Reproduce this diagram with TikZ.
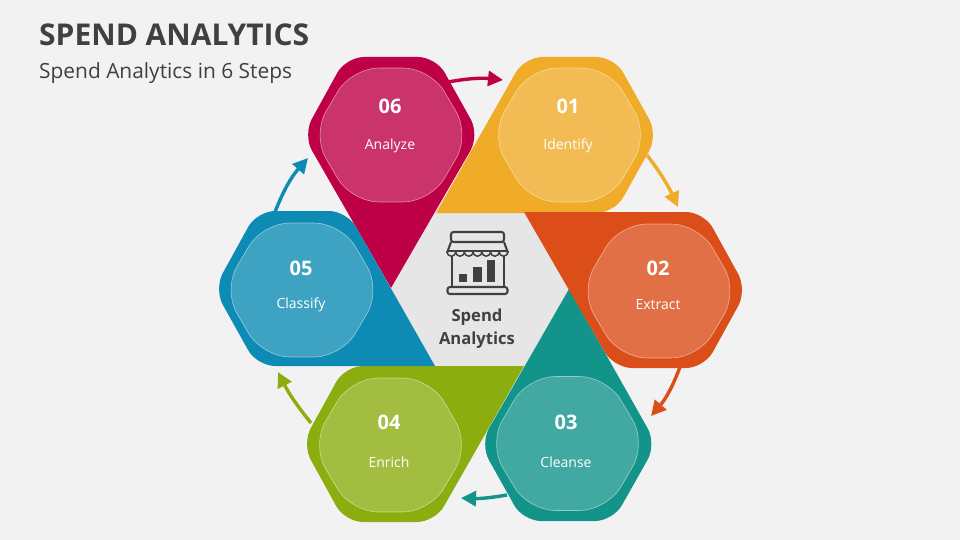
\documentclass[tikz,border=0pt]{standalone}
\usepackage{fontspec}
\setmainfont{Open Sans}
\usetikzlibrary{arrows.meta,shapes.geometric}
\definecolor{pagebg}{HTML}{F2F2F2}
\definecolor{centerbg}{HTML}{E6E6E6}
\definecolor{darktext}{HTML}{404040}
\definecolor{stepa}{HTML}{F0AB28}
\definecolor{stepb}{HTML}{DB4D19}
\definecolor{stepc}{HTML}{12948A}
\definecolor{stepd}{HTML}{8BAD10}
\definecolor{stepe}{HTML}{0E8BB5}
\definecolor{stepf}{HTML}{BE0046}
\tikzset{
    outerhex/.style={rounded corners=18pt},
    innerhex/.style={regular polygon,regular polygon sides=6,minimum size=157.8pt,inner sep=0pt,
        transform shape,yscale=0.98,
        rounded corners=27pt,draw=white,line width=0.6pt,draw opacity=0.5,fill=white,fill opacity=0.2},
    stepnum/.style={text=white,font=\fontsize{20}{24}\selectfont\bfseries},
    stepname/.style={text=white,font=\fontsize{14}{17}\selectfont},
    flow/.style={line width=3.4pt,>={Triangle[length=15pt,width=15pt]}},
    icon/.style={draw=darktext,line width=2.1pt,line join=round}
}
\begin{document}
\begin{tikzpicture}[x=1pt,y=-1pt]
    \useasboundingbox [fill=pagebg] (0,0) rectangle (960,540);
    \node (title) [anchor=west,inner sep=0pt,text=darktext,font=\fontsize{30}{36}\selectfont\bfseries] at (39,34.5) {SPEND ANALYTICS};
    \node (subtitle) [anchor=west,inner sep=0pt,text=darktext,font=\fontsize{20.9}{25}\selectfont] at (39,73.5) {Spend Analytics in 6 Steps};
    % middle
    \fill [centerbg] (435,213) -- (525,213) -- (570,289) -- (525,367) -- (435,367) -- (391,289) -- cycle;
    % big shapes
    \fill [stepf] (391,288) [outerhex] -- (303,135) -- (346,57) -- (436,57) -- (479.5,135) -- (391,288);
    \fill [stepa] (436,213) [outerhex] -- (524.5,57) -- (614.5,57) -- (658,135) -- (614.5,213) -- (436,213);
    \fill [stepd] (524,366) [outerhex] -- (435,522) -- (345,522) -- (302,444) -- (345,366) -- (524,366);
    \fill [stepc] (569,289) [outerhex] -- (656.5,444) -- (613,521) -- (523,521) -- (480,444) -- (569,289);
    \fill [stepb] (524,212) [outerhex] -- (704,212) -- (747,290) -- (704,368) -- (614,368) -- (524,212);
    \fill [stepe] (435,366) [outerhex] -- (257,366) -- (214,289) -- (257,211) -- (347,211) -- (435,366);
    % inner shapes
    \node (in1) [innerhex] at (569.5,135) {};
    \node (in2) [innerhex] at (659,291) {};
    \node (in3) [innerhex] at (567.5,443.5) {};
    \node (in4) [innerhex] at (390.5,445) {};
    \node (in5) [innerhex] at (302,290) {};
    \node (in6) [innerhex] at (391,135) {};
    % labels
    \node (num1) [stepnum] at (568,106) {01};
    \node (name1) [stepname] at (568,145.5) {Identify};
    \node (num2) [stepnum] at (658,268) {02};
    \node (name2) [stepname] at (658,304.5) {Extract};
    \node (num3) [stepnum] at (566,422) {03};
    \node (name3) [stepname] at (566,462) {Cleanse};
    \node (num4) [stepnum] at (389,422) {04};
    \node (name4) [stepname] at (389,462) {Enrich};
    \node (num5) [stepnum] at (301,268) {05};
    \node (name5) [stepname] at (301,304.5) {Classify};
    \node (num6) [stepnum] at (390,106) {06};
    \node (name6) [stepname] at (390,145.5) {Analyze};
    \node (middle) [align=center,text=darktext,font=\fontsize{16.6}{23}\selectfont\bfseries] at (477,329) {Spend\\Analytics};
    % shop icon
    \draw [icon,rounded corners=2.5pt] (451,232) rectangle (504,242);
    \draw [icon] (451,242) -- (447,253);
    \draw [icon] (504,242) -- (508,253);
    \draw [icon] (447,251) -- (508,251);
    \foreach \xs in {447,455.7,464.4,473.1,481.8,490.5,499.2} {
        \draw [icon,line width=1.5pt] (\xs,251) .. controls (\xs,258) and (\xs+8.7,258) .. (\xs+8.7,251);
    }
    \draw [icon] (452,256) -- (452,287);
    \draw [icon] (504,256) -- (504,287);
    \draw [icon,rounded corners=2.5pt] (447.5,287) rectangle (507.5,294);
    \fill [darktext] (459,274) rectangle (467,282);
    \fill [darktext] (473,267) rectangle (482,282);
    \fill [darktext] (487,260) rectangle (495,282);
    % arrows
    \coordinate (out1) at (647,155);
    \coordinate (to2) at (678,207);
    \coordinate (out2) at (680,367);
    \coordinate (to3) at (651,416);
    \coordinate (out3) at (507,495);
    \coordinate (to4) at (461,498);
    \coordinate (out4) at (311,423);
    \coordinate (to5) at (278,372);
    \coordinate (out5) at (275,212);
    \coordinate (to6) at (308,158);
    \coordinate (out6) at (448,82);
    \coordinate (to1) at (503,80);
    \draw [flow,->,stepa] (out1) to [bend left=6] (to2);
    \draw [flow,->,stepb] (out2) to [bend left=10] (to3);
    \draw [flow,->,stepc] (out3) to [bend left=6] (to4);
    \draw [flow,->,stepd] (out4) to [bend left=6] (to5);
    \draw [flow,->,stepe] (out5) to [bend left=10] (to6);
    \draw [flow,->,stepf] (out6) to [bend left=8] (to1);
\end{tikzpicture}
\end{document}
